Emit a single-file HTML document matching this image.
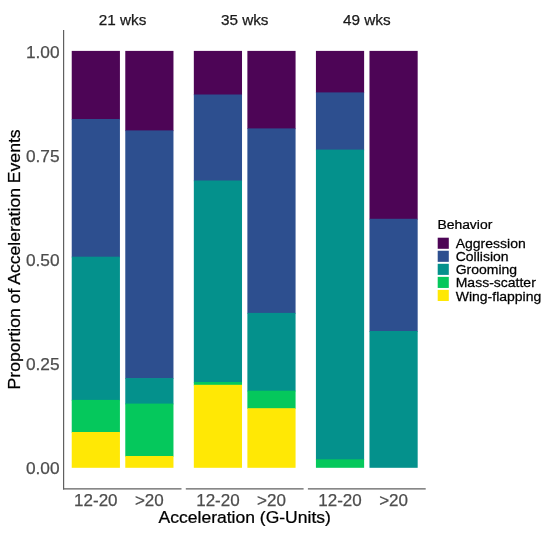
<!DOCTYPE html>
<html><head><meta charset="utf-8"><title>Acceleration events by behavior</title>
<style>
html,body{margin:0;padding:0;background:#fff;}
svg{display:block;}
text{font-family:"Liberation Sans",Arial,Helvetica,sans-serif;stroke:currentColor;stroke-width:0.25px;}
.tick{font-size:17.3px;fill:#4d4d4d;color:#4d4d4d;}
.title{font-size:16.7px;fill:#000;color:#000;}
.strip{font-size:15.3px;fill:#1a1a1a;color:#1a1a1a;}
.leg{font-size:13.7px;fill:#000;color:#000;}
</style></head><body>
<svg width="550" height="539" viewBox="0 0 550 539">
<rect x="0" y="0" width="550" height="539" fill="#ffffff"/>
<rect x="71.73" y="50.90" width="48.19" height="68.80" fill="#4D0556"/>
<rect x="71.73" y="119.00" width="48.19" height="138.40" fill="#2D4F8F"/>
<rect x="71.73" y="256.70" width="48.19" height="143.90" fill="#04918C"/>
<rect x="71.73" y="399.90" width="48.19" height="32.80" fill="#05C85C"/>
<rect x="71.73" y="432.00" width="48.19" height="35.80" fill="#FFE805"/>
<rect x="125.28" y="50.90" width="48.19" height="80.20" fill="#4D0556"/>
<rect x="125.28" y="130.40" width="48.19" height="248.40" fill="#2D4F8F"/>
<rect x="125.28" y="378.10" width="48.19" height="26.20" fill="#04918C"/>
<rect x="125.28" y="403.60" width="48.19" height="53.10" fill="#05C85C"/>
<rect x="125.28" y="456.00" width="48.19" height="11.80" fill="#FFE805"/>
<rect x="193.83" y="50.90" width="48.19" height="44.30" fill="#4D0556"/>
<rect x="193.83" y="94.50" width="48.19" height="86.70" fill="#2D4F8F"/>
<rect x="193.83" y="180.50" width="48.19" height="202.20" fill="#04918C"/>
<rect x="193.83" y="382.00" width="48.19" height="3.50" fill="#05C85C"/>
<rect x="193.83" y="384.80" width="48.19" height="83.00" fill="#FFE805"/>
<rect x="247.38" y="50.90" width="48.19" height="78.20" fill="#4D0556"/>
<rect x="247.38" y="128.40" width="48.19" height="185.20" fill="#2D4F8F"/>
<rect x="247.38" y="312.90" width="48.19" height="78.50" fill="#04918C"/>
<rect x="247.38" y="390.70" width="48.19" height="18.20" fill="#05C85C"/>
<rect x="247.38" y="408.20" width="48.19" height="59.60" fill="#FFE805"/>
<rect x="315.93" y="50.90" width="48.19" height="42.20" fill="#4D0556"/>
<rect x="315.93" y="92.40" width="48.19" height="57.90" fill="#2D4F8F"/>
<rect x="315.93" y="149.60" width="48.19" height="310.40" fill="#04918C"/>
<rect x="315.93" y="459.30" width="48.19" height="8.50" fill="#05C85C"/>
<rect x="369.48" y="50.90" width="48.19" height="168.60" fill="#4D0556"/>
<rect x="369.48" y="218.80" width="48.19" height="112.90" fill="#2D4F8F"/>
<rect x="369.48" y="331.00" width="48.19" height="136.80" fill="#04918C"/>
<rect x="63.0" y="30" width="1.2" height="459.5" fill="#606060"/>
<rect x="63.00" y="488.25" width="118.50" height="1.25" fill="#606060"/>
<rect x="185.80" y="488.25" width="117.80" height="1.25" fill="#606060"/>
<rect x="307.90" y="488.25" width="117.80" height="1.25" fill="#606060"/>
<text class="tick" x="59.6" y="474.40" text-anchor="end">0.00</text>
<text class="tick" x="59.6" y="370.18" text-anchor="end">0.25</text>
<text class="tick" x="59.6" y="265.95" text-anchor="end">0.50</text>
<text class="tick" x="59.6" y="161.72" text-anchor="end">0.75</text>
<text class="tick" x="59.6" y="57.50" text-anchor="end">1.00</text>
<text class="tick" x="95.83" y="505.6" text-anchor="middle" style="font-size:17px">12-20</text>
<text class="tick" x="149.37" y="505.6" text-anchor="middle" style="font-size:17px">&gt;20</text>
<text class="tick" x="217.93" y="505.6" text-anchor="middle" style="font-size:17px">12-20</text>
<text class="tick" x="271.47" y="505.6" text-anchor="middle" style="font-size:17px">&gt;20</text>
<text class="tick" x="340.03" y="505.6" text-anchor="middle" style="font-size:17px">12-20</text>
<text class="tick" x="393.57" y="505.6" text-anchor="middle" style="font-size:17px">&gt;20</text>
<text class="strip" x="122.60" y="25.3" text-anchor="middle">21 wks</text>
<text class="strip" x="244.70" y="25.3" text-anchor="middle">35 wks</text>
<text class="strip" x="366.80" y="25.3" text-anchor="middle">49 wks</text>
<text class="title" transform="translate(244.7,523.3) scale(1.049,1)" text-anchor="middle">Acceleration (G-Units)</text>
<text class="title" transform="translate(19.9,259.4) rotate(-90) scale(1.054,1)" text-anchor="middle">Proportion of Acceleration Events</text>
<text class="leg" transform="translate(437.4,228.5) scale(1.015,1)">Behavior</text>
<rect x="437.7" y="237.70" width="11.1" height="11.1" fill="#4D0556"/>
<text class="leg" transform="translate(455.7,248.30) scale(1.022,1)">Aggression</text>
<rect x="437.7" y="250.75" width="11.1" height="11.1" fill="#2D4F8F"/>
<text class="leg" transform="translate(455.7,261.35) scale(1.022,1)">Collision</text>
<rect x="437.7" y="263.80" width="11.1" height="11.1" fill="#04918C"/>
<text class="leg" transform="translate(455.7,274.40) scale(1.022,1)">Grooming</text>
<rect x="437.7" y="276.85" width="11.1" height="11.1" fill="#05C85C"/>
<text class="leg" transform="translate(455.7,287.45) scale(1.022,1)">Mass-scatter</text>
<rect x="437.7" y="289.90" width="11.1" height="11.1" fill="#FFE805"/>
<text class="leg" transform="translate(455.7,300.50) scale(1.022,1)">Wing-flapping</text>
</svg></body></html>
